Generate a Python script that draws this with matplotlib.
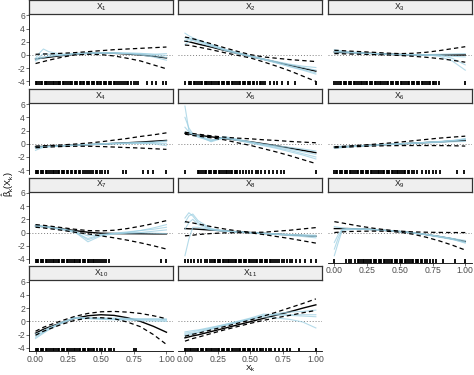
import numpy as np
import matplotlib.pyplot as plt

plt.rcParams['font.family'] = ['Liberation Sans', 'DejaVu Sans']
plt.rcParams['mathtext.fontset'] = 'custom'
plt.rcParams['mathtext.rm'] = 'Liberation Sans'
plt.rcParams['mathtext.it'] = 'Liberation Sans:italic'
plt.rcParams['mathtext.default'] = 'regular'

# common grid of X_k values the curves were read at
grid_x = [0.00, 0.03, 0.06, 0.10, 0.20, 0.30, 0.40, 0.50, 0.60, 0.70, 0.80, 0.90, 1.00]

panel_names = ['1', '2', '3', '4', '5', '6', '7', '8', '9', '10', '11']
x_ticks = [0.00, 0.25, 0.50, 0.75, 1.00]
x_tick_labels = ['0.00', '0.25', '0.50', '0.75', '1.00']
y_ticks = [-4, -2, 0, 2, 4, 6]
y_tick_labels = ['-4', '-2', '0', '2', '4', '6']

# estimated effect (solid black)
fit = [
    [-0.60, -0.52, -0.45, -0.35, -0.10, 0.12, 0.25, 0.28, 0.25, 0.15, 0.00, -0.20, -0.45],
    [2.10, 2.00, 1.85, 1.65, 1.20, 0.70, 0.25, -0.20, -0.65, -1.10, -1.55, -2.00, -2.45],
    [0.45, 0.43, 0.40, 0.37, 0.30, 0.22, 0.14, 0.07, 0.02, 0.00, 0.00, 0.00, 0.00],
    [-0.45, -0.43, -0.40, -0.37, -0.30, -0.22, -0.15, -0.05, 0.05, 0.15, 0.25, 0.38, 0.50],
    [1.60, 1.50, 1.40, 1.30, 1.05, 0.80, 0.55, 0.30, 0.00, -0.30, -0.65, -1.00, -1.35],
    [-0.50, -0.48, -0.45, -0.42, -0.32, -0.22, -0.12, -0.02, 0.08, 0.18, 0.28, 0.40, 0.50],
    [1.00, 0.95, 0.90, 0.80, 0.55, 0.30, 0.05, -0.10, -0.15, -0.17, -0.18, -0.20, -0.20],
    [0.60, 0.57, 0.55, 0.50, 0.38, 0.25, 0.12, 0.00, -0.12, -0.25, -0.35, -0.45, -0.55],
    [0.60, 0.60, 0.60, 0.60, 0.55, 0.45, 0.30, 0.15, -0.05, -0.30, -0.60, -0.95, -1.35],
    [-1.80, -1.50, -1.20, -0.90, -0.20, 0.45, 0.85, 1.00, 0.90, 0.55, 0.00, -0.75, -1.65],
    [-2.50, -2.35, -2.20, -2.05, -1.55, -1.05, -0.55, -0.05, 0.45, 0.95, 1.45, 2.00, 2.50],
]

# pointwise band (dashed)
upper = [
    [0.10, 0.12, 0.14, 0.16, 0.25, 0.35, 0.50, 0.65, 0.80, 0.90, 1.00, 1.10, 1.20],
    [2.70, 2.60, 2.45, 2.25, 1.70, 1.10, 0.55, 0.05, -0.30, -0.50, -0.70, -0.85, -1.00],
    [0.70, 0.68, 0.65, 0.60, 0.50, 0.40, 0.28, 0.20, 0.25, 0.40, 0.65, 0.95, 1.25],
    [-0.35, -0.33, -0.30, -0.27, -0.18, -0.05, 0.10, 0.30, 0.55, 0.80, 1.10, 1.35, 1.65],
    [1.75, 1.65, 1.55, 1.45, 1.20, 1.00, 0.85, 0.75, 0.60, 0.50, 0.35, 0.25, 0.15],
    [-0.45, -0.42, -0.40, -0.35, -0.22, -0.08, 0.08, 0.25, 0.45, 0.65, 0.85, 1.00, 1.15],
    [1.20, 1.15, 1.10, 1.00, 0.75, 0.50, 0.30, 0.25, 0.35, 0.60, 0.95, 1.35, 1.80],
    [1.65, 1.55, 1.45, 1.30, 0.90, 0.55, 0.25, 0.05, 0.05, 0.20, 0.35, 0.55, 0.75],
    [1.65, 1.55, 1.45, 1.30, 0.95, 0.65, 0.40, 0.22, 0.10, 0.05, 0.02, 0.00, 0.00],
    [-1.50, -1.20, -0.90, -0.60, 0.10, 0.75, 1.20, 1.45, 1.50, 1.40, 1.20, 0.85, 0.40],
    [-2.25, -2.10, -1.95, -1.80, -1.30, -0.80, -0.30, 0.20, 0.80, 1.40, 2.05, 2.70, 3.40],
]
lower = [
    [-1.30, -1.15, -1.00, -0.80, -0.35, 0.00, 0.10, 0.05, -0.15, -0.50, -0.90, -1.50, -2.10],
    [1.50, 1.45, 1.35, 1.20, 0.80, 0.35, -0.05, -0.45, -1.05, -1.70, -2.40, -3.20, -4.00],
    [0.20, 0.20, 0.18, 0.15, 0.10, 0.05, 0.00, -0.08, -0.20, -0.35, -0.55, -0.80, -1.10],
    [-0.60, -0.58, -0.55, -0.50, -0.42, -0.38, -0.38, -0.42, -0.50, -0.58, -0.65, -0.75, -0.85],
    [1.45, 1.35, 1.25, 1.15, 0.90, 0.60, 0.15, -0.25, -0.75, -1.25, -1.80, -2.40, -3.00],
    [-0.60, -0.58, -0.55, -0.50, -0.42, -0.35, -0.30, -0.28, -0.27, -0.27, -0.28, -0.30, -0.35],
    [0.80, 0.75, 0.70, 0.60, 0.35, 0.05, -0.20, -0.50, -0.80, -1.15, -1.55, -2.00, -2.50],
    [-0.50, -0.45, -0.40, -0.30, -0.15, -0.05, -0.02, -0.05, -0.30, -0.60, -0.90, -1.25, -1.60],
    [0.00, 0.05, 0.10, 0.15, 0.20, 0.22, 0.20, 0.05, -0.25, -0.70, -1.25, -1.90, -2.65],
    [-2.10, -1.80, -1.50, -1.20, -0.45, 0.15, 0.50, 0.55, 0.40, -0.10, -0.80, -2.00, -3.50],
    [-3.00, -2.80, -2.60, -2.40, -1.85, -1.30, -0.80, -0.30, 0.15, 0.55, 0.90, 1.30, 1.65],
]

# individual light-blue curves
draws = [
    [[-0.80, -0.30, 0.20, 0.10, 0.00, 0.20, 0.30, 0.35, 0.30, 0.25, 0.20, 0.10, -0.10],
     [-0.50, 0.30, 0.90, 0.50, 0.10, 0.25, 0.30, 0.30, 0.30, 0.20, 0.00, -0.30, -0.80],
     [-0.90, -0.60, -0.40, -0.20, 0.00, 0.15, 0.25, 0.30, 0.30, 0.30, 0.25, 0.10, 0.20],
     [-0.60, -0.40, -0.30, -0.20, -0.05, 0.10, 0.20, 0.25, 0.25, 0.20, 0.10, -0.10, -0.40]],
    [[3.30, 2.90, 2.60, 2.20, 1.60, 0.90, 0.40, -0.10, -0.60, -1.10, -1.50, -1.90, -2.30],
     [1.60, 2.00, 2.30, 2.10, 1.50, 0.80, 0.30, -0.20, -0.60, -1.00, -1.40, -1.70, -1.90],
     [2.60, 2.50, 2.20, 1.90, 1.30, 0.80, 0.30, -0.25, -0.70, -1.20, -1.70, -2.20, -2.70],
     [2.20, 2.40, 2.50, 2.30, 1.40, 0.70, 0.20, -0.20, -0.70, -1.20, -1.80, -2.30, -2.90]],
    [[0.80, 0.70, 0.60, 0.50, 0.35, 0.20, 0.10, 0.05, 0.00, -0.05, -0.10, -0.20, -0.30],
     [0.30, 0.30, 0.30, 0.30, 0.25, 0.20, 0.10, 0.05, 0.00, 0.00, -0.20, -0.90, -2.30],
     [0.50, 0.50, 0.45, 0.40, 0.30, 0.20, 0.15, 0.10, 0.05, 0.00, 0.00, -0.50, -1.50],
     [0.60, 0.55, 0.50, 0.45, 0.30, 0.20, 0.10, 0.05, 0.05, 0.05, 0.10, 0.15, 0.20]],
    [[-1.00, -0.75, -0.55, -0.45, -0.30, -0.20, -0.10, 0.00, 0.10, 0.15, 0.20, 0.25, 0.30],
     [-0.60, -0.55, -0.50, -0.42, -0.30, -0.20, -0.10, -0.05, 0.00, 0.05, 0.05, 0.00, -0.30],
     [-0.50, -0.45, -0.42, -0.40, -0.32, -0.25, -0.15, -0.05, 0.05, 0.10, 0.15, 0.10, 0.00],
     [-0.70, -0.60, -0.50, -0.45, -0.35, -0.25, -0.15, -0.05, 0.00, 0.05, 0.10, 0.20, 0.45]],
    [[5.70, 2.00, 1.30, 1.00, 0.40, 1.10, 0.70, 0.30, -0.10, -0.45, -0.80, -1.20, -1.60],
     [4.00, 2.40, 1.50, 1.10, 0.50, 1.00, 0.60, 0.20, -0.20, -0.60, -1.00, -1.50, -2.00],
     [2.50, 1.80, 1.50, 1.20, 0.30, 0.90, 0.50, 0.10, -0.30, -0.70, -1.20, -1.70, -2.30],
     [1.80, 1.60, 1.50, 1.30, 0.60, 0.80, 0.55, 0.25, -0.05, -0.30, -0.55, -0.80, -1.10]],
    [[-0.70, -0.65, -0.60, -0.50, -0.38, -0.25, -0.12, 0.00, 0.10, 0.20, 0.30, 0.45, 0.60],
     [-0.40, -0.40, -0.38, -0.35, -0.28, -0.20, -0.10, 0.00, 0.10, 0.20, 0.30, 0.45, 0.80],
     [-0.55, -0.50, -0.48, -0.45, -0.35, -0.25, -0.15, -0.05, 0.05, 0.12, 0.20, 0.30, 0.35],
     [-0.60, -0.55, -0.50, -0.45, -0.35, -0.22, -0.10, 0.00, 0.10, 0.22, 0.35, 0.50, 0.70]],
    [[1.10, 1.00, 0.90, 0.80, 0.50, 0.10, -1.40, -0.50, -0.20, 0.00, 0.30, 0.70, 1.20],
     [0.90, 0.90, 0.85, 0.75, 0.45, 0.00, -0.90, -0.30, -0.10, 0.10, 0.30, 0.50, 0.80],
     [1.00, 0.95, 0.90, 0.80, 0.50, 0.20, -0.50, -0.30, -0.20, -0.10, 0.00, 0.20, 0.40],
     [1.20, 1.05, 0.95, 0.85, 0.55, 0.15, -1.10, -0.40, -0.15, -0.05, -0.05, -0.10, -0.15]],
    [[2.20, 3.00, 2.50, 1.50, 0.50, 0.20, 0.10, 0.00, -0.10, -0.20, -0.30, -0.40, -0.50],
     [1.50, 2.50, 2.80, 1.80, 0.60, 0.30, 0.10, 0.00, -0.10, -0.25, -0.35, -0.45, -0.60],
     [-3.50, -1.00, 0.80, 0.80, 0.40, 0.20, 0.10, 0.00, -0.15, -0.30, -0.45, -0.60, -0.80],
     [0.50, 1.50, 2.00, 1.20, 0.45, 0.25, 0.10, -0.05, -0.15, -0.25, -0.30, -0.35, -0.40]],
    [[-3.50, -1.50, 0.30, 0.50, 0.50, 0.45, 0.30, 0.15, -0.05, -0.30, -0.60, -0.90, -1.20],
     [-2.50, -0.80, 0.40, 0.40, 0.60, 0.50, 0.35, 0.20, 0.00, -0.25, -0.55, -0.90, -1.40],
     [-1.50, -0.30, 0.50, 0.60, 0.55, 0.45, 0.30, 0.10, -0.10, -0.35, -0.70, -1.05, -1.50],
     [0.90, 0.80, 0.70, 0.60, 0.50, 0.40, 0.30, 0.15, -0.05, -0.30, -0.60, -1.00, -1.60]],
    [[-2.60, -2.20, -1.80, -1.30, -0.30, 0.50, 0.50, 0.50, 0.50, 0.45, 0.40, 0.40, 0.35],
     [-2.20, -1.90, -1.60, -1.10, -0.20, 0.55, 0.45, 0.40, 0.35, 0.30, 0.25, 0.20, 0.15],
     [-2.40, -2.00, -1.70, -1.20, -0.10, 0.45, 0.40, 0.30, 0.25, 0.20, 0.10, 0.05, 0.00],
     [-1.90, -1.70, -1.40, -1.00, -0.25, 0.60, 0.50, 0.45, 0.40, 0.35, 0.30, 0.30, 0.30]],
    [[-1.80, -1.70, -1.60, -1.40, -1.00, -0.50, 0.00, 0.50, 1.10, 1.00, 0.90, 0.80, 0.70],
     [-2.20, -2.10, -1.90, -1.70, -1.20, -0.70, -0.20, 0.30, 0.80, 1.20, 1.40, 1.50, 1.70],
     [-1.60, -1.50, -1.40, -1.30, -0.90, -0.50, -0.10, 0.30, 0.70, 0.50, 0.30, -0.10, -1.00],
     [-2.00, -1.90, -1.80, -1.60, -1.10, -0.60, -0.10, 0.40, 0.90, 1.00, 1.00, 1.00, 1.00]],
]

# observed X_k values (rug)
rugs = [
    [0.00, 0.01, 0.03, 0.04, 0.05, 0.07, 0.08, 0.09, 0.10, 0.12, 0.13, 0.14, 0.16, 0.17, 0.18, 0.19,
     0.21, 0.22, 0.23, 0.25, 0.26, 0.27, 0.28, 0.30, 0.31, 0.32, 0.34, 0.35, 0.36, 0.37, 0.39, 0.40,
     0.41, 0.43, 0.44, 0.45, 0.47, 0.48, 0.49, 0.50, 0.52, 0.53, 0.54, 0.56, 0.57, 0.58, 0.60, 0.61,
     0.62, 0.64, 0.65, 0.67, 0.68, 0.70, 0.71, 0.73, 0.75, 0.77, 0.78, 0.85, 0.89, 0.92, 0.97, 1.00],
    [0.00, 0.03, 0.04, 0.05, 0.07, 0.08, 0.09, 0.11, 0.12, 0.13, 0.15, 0.16, 0.17, 0.18, 0.20, 0.21,
     0.22, 0.24, 0.25, 0.26, 0.28, 0.29, 0.30, 0.32, 0.33, 0.34, 0.36, 0.37, 0.38, 0.40, 0.41, 0.42,
     0.44, 0.45, 0.46, 0.48, 0.49, 0.50, 0.52, 0.53, 0.55, 0.57, 0.58, 0.60, 0.61, 0.65, 0.68, 0.70,
     0.74, 0.79, 0.84, 1.00],
    [0.00, 0.01, 0.03, 0.04, 0.05, 0.07, 0.08, 0.09, 0.11, 0.12, 0.13, 0.15, 0.16, 0.17, 0.19, 0.20,
     0.21, 0.23, 0.24, 0.25, 0.27, 0.28, 0.29, 0.31, 0.32, 0.33, 0.35, 0.36, 0.37, 0.39, 0.40, 0.41,
     0.43, 0.44, 0.45, 0.47, 0.48, 0.49, 0.51, 0.52, 0.53, 0.55, 0.56, 0.57, 0.59, 0.60, 0.61, 0.63,
     0.64, 0.65, 0.67, 0.68, 0.69, 0.71, 0.72, 0.73, 0.75, 0.76, 0.78, 0.80, 1.00],
    [0.00, 0.01, 0.02, 0.04, 0.05, 0.06, 0.08, 0.09, 0.10, 0.12, 0.13, 0.14, 0.16, 0.17, 0.18, 0.20,
     0.21, 0.22, 0.24, 0.25, 0.27, 0.28, 0.30, 0.31, 0.33, 0.34, 0.36, 0.38, 0.39, 0.41, 0.42, 0.44,
     0.46, 0.47, 0.49, 0.51, 0.53, 0.55, 0.67, 0.69, 0.82, 0.86, 0.90, 1.00],
    [0.00, 0.10, 0.11, 0.12, 0.14, 0.15, 0.16, 0.18, 0.19, 0.20, 0.22, 0.23, 0.24, 0.26, 0.27, 0.28,
     0.30, 0.31, 0.32, 0.34, 0.35, 0.36, 0.38, 0.39, 0.40, 0.42, 0.44, 0.47, 0.49, 0.51, 0.54, 0.56,
     0.58, 0.61, 0.64, 0.67, 0.70, 0.73, 0.76, 1.00],
    [0.00, 0.01, 0.02, 0.04, 0.05, 0.06, 0.08, 0.09, 0.10, 0.12, 0.13, 0.14, 0.16, 0.17, 0.18, 0.20,
     0.21, 0.22, 0.24, 0.25, 0.26, 0.28, 0.29, 0.30, 0.32, 0.33, 0.34, 0.36, 0.37, 0.38, 0.40, 0.41,
     0.42, 0.44, 0.45, 0.46, 0.48, 0.49, 0.50, 0.52, 0.53, 0.54, 0.56, 0.57, 0.59, 0.61, 0.63, 0.67,
     0.70, 0.72, 0.75, 0.78, 0.81, 0.94, 0.99],
    [0.00, 0.01, 0.02, 0.04, 0.05, 0.06, 0.08, 0.09, 0.10, 0.12, 0.13, 0.14, 0.16, 0.17, 0.18, 0.20,
     0.21, 0.22, 0.24, 0.25, 0.26, 0.28, 0.29, 0.30, 0.32, 0.33, 0.34, 0.36, 0.37, 0.38, 0.40, 0.41,
     0.42, 0.44, 0.45, 0.46, 0.48, 0.49, 0.51, 0.52, 0.54, 0.56, 0.96, 1.00],
    [0.00, 0.02, 0.05, 0.07, 0.10, 0.12, 0.15, 0.17, 0.19, 0.21, 0.22, 0.23, 0.25, 0.26, 0.27, 0.29,
     0.30, 0.31, 0.33, 0.34, 0.35, 0.37, 0.38, 0.39, 0.41, 0.42, 0.43, 0.45, 0.46, 0.47, 0.49, 0.50,
     0.51, 0.53, 0.54, 0.55, 0.57, 0.58, 0.59, 0.61, 0.62, 0.63, 0.65, 0.66, 0.67, 0.69, 0.70, 0.72,
     0.74, 0.76, 0.78, 0.80, 0.82, 0.85, 0.88, 0.92, 0.96, 1.00],
    [0.00, 0.09, 0.11, 0.13, 0.16, 0.18, 0.19, 0.20, 0.22, 0.23, 0.24, 0.26, 0.27, 0.28, 0.30, 0.31,
     0.32, 0.34, 0.35, 0.36, 0.38, 0.39, 0.40, 0.42, 0.43, 0.44, 0.46, 0.47, 0.48, 0.50, 0.51, 0.52,
     0.54, 0.55, 0.56, 0.58, 0.59, 0.60, 0.62, 0.63, 0.64, 0.66, 0.67, 0.69, 0.71, 0.73, 0.75, 0.78,
     0.83, 0.92, 1.00],
    [0.00, 0.01, 0.02, 0.04, 0.05, 0.06, 0.08, 0.09, 0.10, 0.12, 0.13, 0.14, 0.16, 0.17, 0.18, 0.20,
     0.21, 0.22, 0.24, 0.25, 0.26, 0.28, 0.29, 0.30, 0.32, 0.33, 0.34, 0.36, 0.37, 0.38, 0.40, 0.41,
     0.42, 0.44, 0.45, 0.47, 0.49, 0.51, 0.53, 0.56, 0.58, 0.60, 0.75, 0.77],
    [0.00, 0.01, 0.02, 0.04, 0.05, 0.06, 0.08, 0.09, 0.10, 0.12, 0.13, 0.14, 0.16, 0.17, 0.18, 0.20,
     0.21, 0.22, 0.24, 0.25, 0.26, 0.28, 0.29, 0.30, 0.32, 0.33, 0.34, 0.36, 0.37, 0.38, 0.40, 0.41,
     0.42, 0.44, 0.45, 0.46, 0.48, 0.49, 0.50, 0.52, 0.53, 0.55, 0.57, 0.58, 0.60, 0.62, 0.64, 0.66,
     0.69, 0.72, 0.75, 0.78, 0.80, 0.87, 1.00],
]

W, H = 474, 375
fig = plt.figure(figsize=(W / 100, H / 100), dpi=100)


def px_axes(x0, y0, w, h):
    # place an axes using pixel coords measured from the top-left corner
    return fig.add_axes([x0 / W, 1 - (y0 + h) / H, w / W, h / H])


for i in range(11):
    r, c = divmod(i, 3)
    x0 = 29.0 + c * 149.4
    y0 = 14.0 + r * 88.8
    ax = px_axes(x0, y0, 144.0, 71.0)

    ax.axhline(0, color='#7f7f7f', lw=0.7, ls=(0, (1, 2)), zorder=1)
    ax.plot(grid_x, fit[i], color='black', lw=1.0, zorder=2)
    for d in draws[i]:
        ax.plot(grid_x, d, color='#9ccfe2', lw=0.8, alpha=0.75, zorder=3)
    ax.plot(grid_x, upper[i], color='black', lw=0.9, ls=(0, (3.5, 2.5)), zorder=4)
    ax.plot(grid_x, lower[i], color='black', lw=0.9, ls=(0, (3.5, 2.5)), zorder=4)
    ax.vlines(rugs[i], 0, 0.05, transform=ax.get_xaxis_transform(),
              color='black', lw=1.3, zorder=5)

    ax.set_xlim(-0.05, 1.05)
    ax.set_ylim(-4.55, 6.2)
    ax.set_xticks(x_ticks)
    ax.set_xticklabels(x_tick_labels)
    ax.set_yticks(y_ticks)
    ax.set_yticklabels(y_tick_labels)
    ax.tick_params(labelsize=6.2, labelcolor='#4d4d4d', length=2.0, width=0.5,
                   color='#333333', pad=0.8)
    for s in ['top', 'right']:
        ax.spines[s].set_visible(False)
    ax.spines['left'].set_linewidth(0.6)
    ax.spines['bottom'].set_linewidth(0.6)
    if c != 0:
        ax.spines['left'].set_visible(False)
        ax.tick_params(left=False, labelleft=False)
    if i < 8:
        ax.spines['bottom'].set_visible(False)
        ax.tick_params(bottom=False, labelbottom=False)

    st = px_axes(x0, y0 - 14.0, 144.0, 14.0)
    st.set_facecolor('#efefef')
    st.set_xticks([])
    st.set_yticks([])
    for s in st.spines.values():
        s.set_color('#333333')
        s.set_linewidth(0.9)
    st.text(0.5, 0.5, '$X_{' + panel_names[i] + '}$', ha='center', va='center',
            fontsize=6.2, color='#1a1a1a', transform=st.transAxes)

fig.text(8 / W, 1 - 184 / H, r'$\hat{\beta}_k(X_k)$', rotation=90,
         ha='center', va='center', fontsize=6.5)
fig.text(250.5 / W, 1 - 374.0 / H, '$X_k$', ha='center', va='bottom', fontsize=6.0)

fig.savefig('out.png', dpi=100)
